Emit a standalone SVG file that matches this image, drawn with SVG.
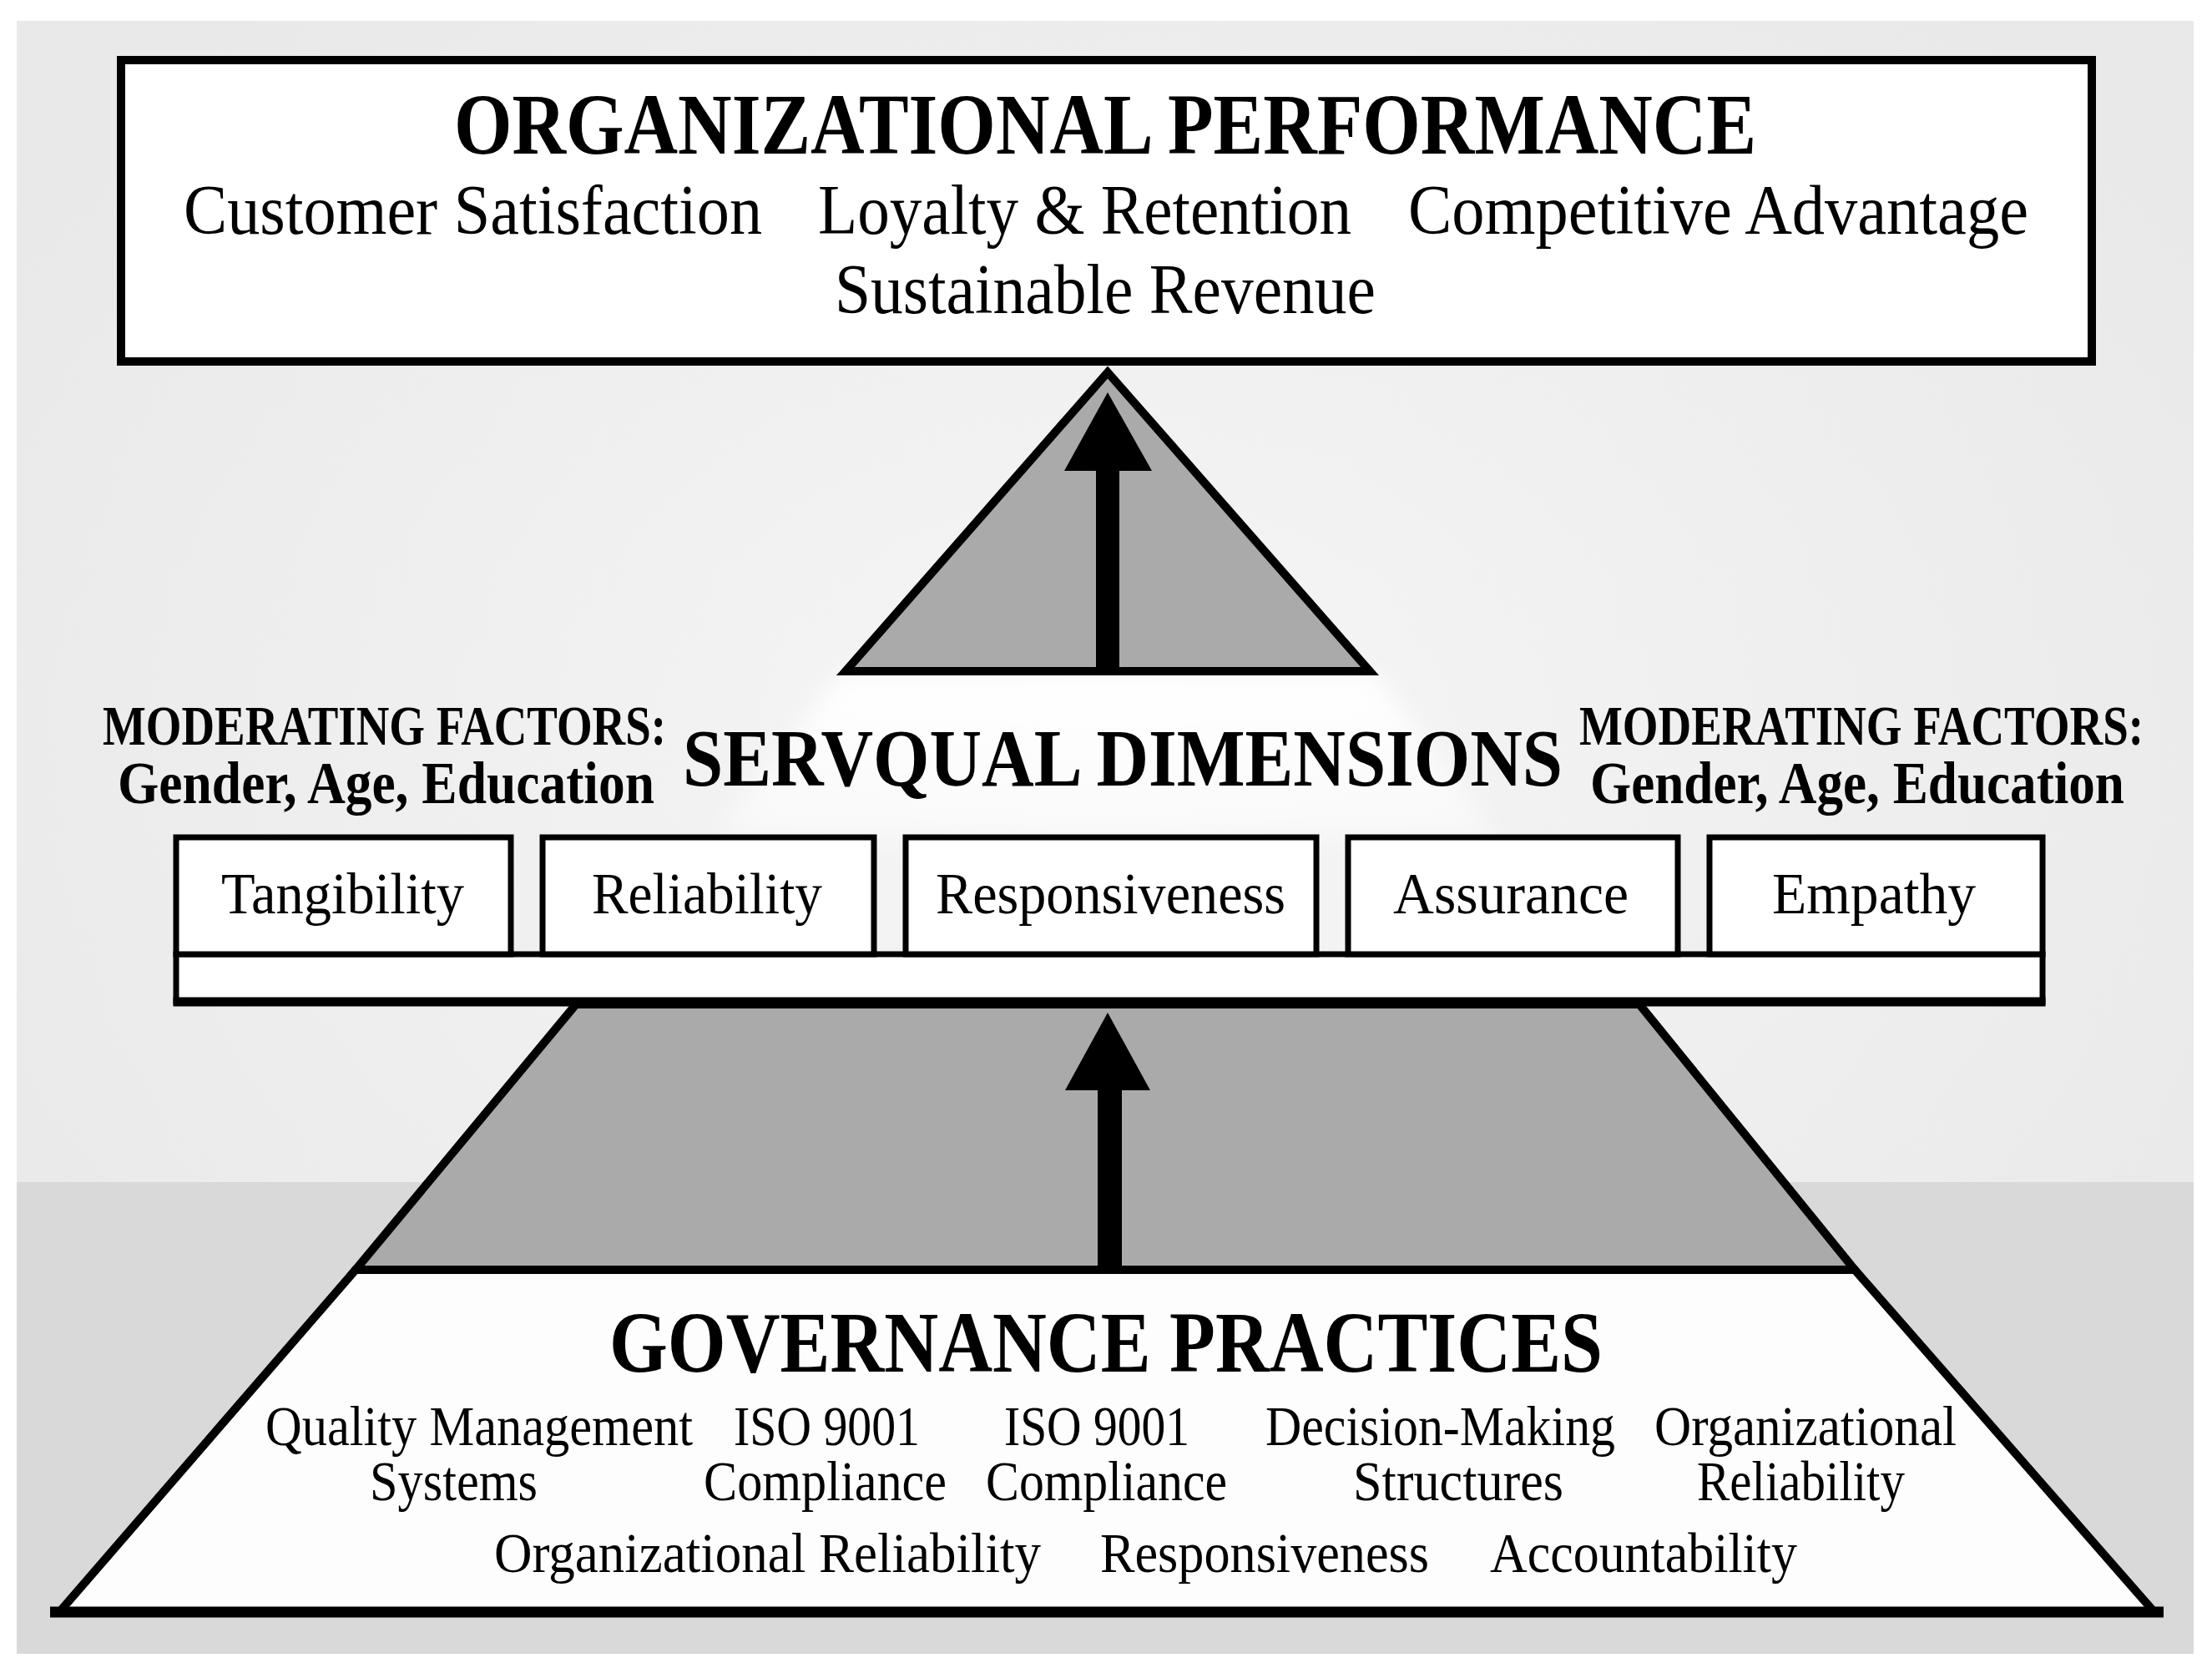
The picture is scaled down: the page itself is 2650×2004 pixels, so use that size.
<svg xmlns="http://www.w3.org/2000/svg" width="2650" height="2004" viewBox="0 0 2650 2004">
<style>
text{font-family:"Liberation Serif","Times New Roman",serif;fill:#000}
.b{font-weight:bold}
.title{font-size:104px;font-weight:bold}
.sub{font-size:84px}
.mod1{font-size:68px;font-weight:bold}
.mod2{font-size:71px;font-weight:bold}
.dim{font-size:70px}
.gov{font-size:67px}
.ln{stroke:#000;stroke-width:10;stroke-linejoin:miter}
.box{fill:#fff;stroke:#000;stroke-width:7}
.gray{fill:#aaaaaa}
.wht{fill:#fdfdfd}
</style>
<defs>
<linearGradient id="beam" x1="0" y1="0" x2="0" y2="1">
<stop offset="0" stop-color="#fff" stop-opacity="1"/>
<stop offset="1" stop-color="#fff" stop-opacity="0.5"/>
</linearGradient>
<filter id="soft" x="-20%" y="-20%" width="140%" height="140%">
<feGaussianBlur stdDeviation="14"/>
</filter>
<radialGradient id="bgg" cx="0.5" cy="0.45" r="0.6">
<stop offset="0" stop-color="#f6f6f6"/>
<stop offset="1" stop-color="#e9e9e9"/>
</radialGradient>
</defs>
<rect x="0" y="0" width="2650" height="2004" fill="#fff"/>
<rect x="20" y="25" width="2608" height="1956" fill="url(#bgg)"/>
<rect x="20" y="1416" width="2608" height="565" fill="#d9d9d9"/>
<polygon points="1006,808 1648,808 1790,1000 860,1000" fill="url(#beam)" filter="url(#soft)"/>

<g id="top-triangle">
<polygon class="gray ln" points="1327,446 1013,804 1641,804"/>
</g>

<g id="organizational-performance">
<rect x="145" y="72" width="2361" height="361" fill="#fff" stroke="#000" stroke-width="10"/>
<text class="title" x="544" y="184" textLength="1560" lengthAdjust="spacingAndGlyphs">ORGANIZATIONAL PERFORMANCE</text>
<text class="sub" x="220" y="280" textLength="693" lengthAdjust="spacingAndGlyphs">Customer Satisfaction</text>
<text class="sub" x="980" y="280" textLength="639" lengthAdjust="spacingAndGlyphs">Loyalty &amp; Retention</text>
<text class="sub" x="1687" y="280" textLength="743" lengthAdjust="spacingAndGlyphs">Competitive Advantage</text>
<text class="sub" x="1000" y="375" textLength="648" lengthAdjust="spacingAndGlyphs">Sustainable Revenue</text>
</g>

<g id="moderating-left">
<text class="mod1" x="123" y="892" textLength="675" lengthAdjust="spacingAndGlyphs">MODERATING FACTORS:</text>
<text class="mod2" x="141" y="962" textLength="643" lengthAdjust="spacingAndGlyphs">Gender, Age, Education</text>
</g>
<g id="moderating-right">
<text class="mod1" x="1892" y="892" textLength="676" lengthAdjust="spacingAndGlyphs">MODERATING FACTORS:</text>
<text class="mod2" x="1905" y="962" textLength="640" lengthAdjust="spacingAndGlyphs">Gender, Age, Education</text>
</g>

<g id="servqual-dimensions">
<text class="b" x="818" y="941" font-size="98" textLength="1054" lengthAdjust="spacingAndGlyphs">SERVQUAL DIMENSIONS</text>
<rect class="box" x="211" y="1143" width="2236" height="57"/>
<line x1="207.5" y1="1200" x2="2450.5" y2="1200" stroke="#000" stroke-width="11"/>
<g id="dim-tangibility">
<rect class="box" x="211" y="1003" width="401" height="140"/>
<text class="dim" x="265" y="1094" textLength="291" lengthAdjust="spacingAndGlyphs">Tangibility</text>
</g>
<g id="dim-reliability">
<rect class="box" x="650" y="1003" width="397" height="140"/>
<text class="dim" x="709" y="1094" textLength="276" lengthAdjust="spacingAndGlyphs">Reliability</text>
</g>
<g id="dim-responsiveness">
<rect class="box" x="1085" y="1003" width="492" height="140"/>
<text class="dim" x="1121" y="1094" textLength="419" lengthAdjust="spacingAndGlyphs">Responsiveness</text>
</g>
<g id="dim-assurance">
<rect class="box" x="1615" y="1003" width="395" height="140"/>
<text class="dim" x="1669" y="1094" textLength="282" lengthAdjust="spacingAndGlyphs">Assurance</text>
</g>
<g id="dim-empathy">
<rect class="box" x="2048" y="1003" width="399" height="140"/>
<text class="dim" x="2123" y="1094" textLength="244" lengthAdjust="spacingAndGlyphs">Empathy</text>
</g>
</g>

<g id="governance-practices">
<polygon class="gray ln" points="690,1203 1964,1203 2222,1521 426,1521"/>
<polygon class="wht ln" points="426,1521 2222,1521 2580,1930 72,1930"/>
<line x1="60" y1="1931" x2="2592" y2="1931" stroke="#000" stroke-width="13"/>
<text class="b" x="730" y="1643" font-size="104" textLength="1190" lengthAdjust="spacingAndGlyphs">GOVERNANCE PRACTICES</text>
<text class="gov" x="318" y="1731" textLength="512" lengthAdjust="spacingAndGlyphs">Quality Management</text>
<text class="gov" x="879" y="1731" textLength="223" lengthAdjust="spacingAndGlyphs">ISO 9001</text>
<text class="gov" x="1203" y="1731" textLength="222" lengthAdjust="spacingAndGlyphs">ISO 9001</text>
<text class="gov" x="1516" y="1731" textLength="419" lengthAdjust="spacingAndGlyphs">Decision-Making</text>
<text class="gov" x="1982" y="1731" textLength="362" lengthAdjust="spacingAndGlyphs">Organizational</text>
<text class="gov" x="443" y="1797" textLength="201" lengthAdjust="spacingAndGlyphs">Systems</text>
<text class="gov" x="843" y="1797" textLength="291" lengthAdjust="spacingAndGlyphs">Compliance</text>
<text class="gov" x="1181" y="1797" textLength="289" lengthAdjust="spacingAndGlyphs">Compliance</text>
<text class="gov" x="1621" y="1797" textLength="252" lengthAdjust="spacingAndGlyphs">Structures</text>
<text class="gov" x="2033" y="1797" textLength="249" lengthAdjust="spacingAndGlyphs">Reliability</text>
<text class="gov" x="592" y="1883" textLength="655" lengthAdjust="spacingAndGlyphs">Organizational Reliability</text>
<text class="gov" x="1318" y="1883" textLength="394" lengthAdjust="spacingAndGlyphs">Responsiveness</text>
<text class="gov" x="1785" y="1883" textLength="368" lengthAdjust="spacingAndGlyphs">Accountability</text>
</g>

<g id="connectors">
<g id="arrow-servqual-to-performance">
<rect x="1313" y="560" width="28" height="246" fill="#000"/>
<polygon points="1327,470 1380,564 1275,564" fill="#000"/>
</g>
<g id="arrow-governance-to-servqual">
<rect x="1315" y="1303" width="29" height="216" fill="#000"/>
<polygon points="1327,1213 1378,1306 1276,1306" fill="#000"/>
</g>
</g>
</svg>
